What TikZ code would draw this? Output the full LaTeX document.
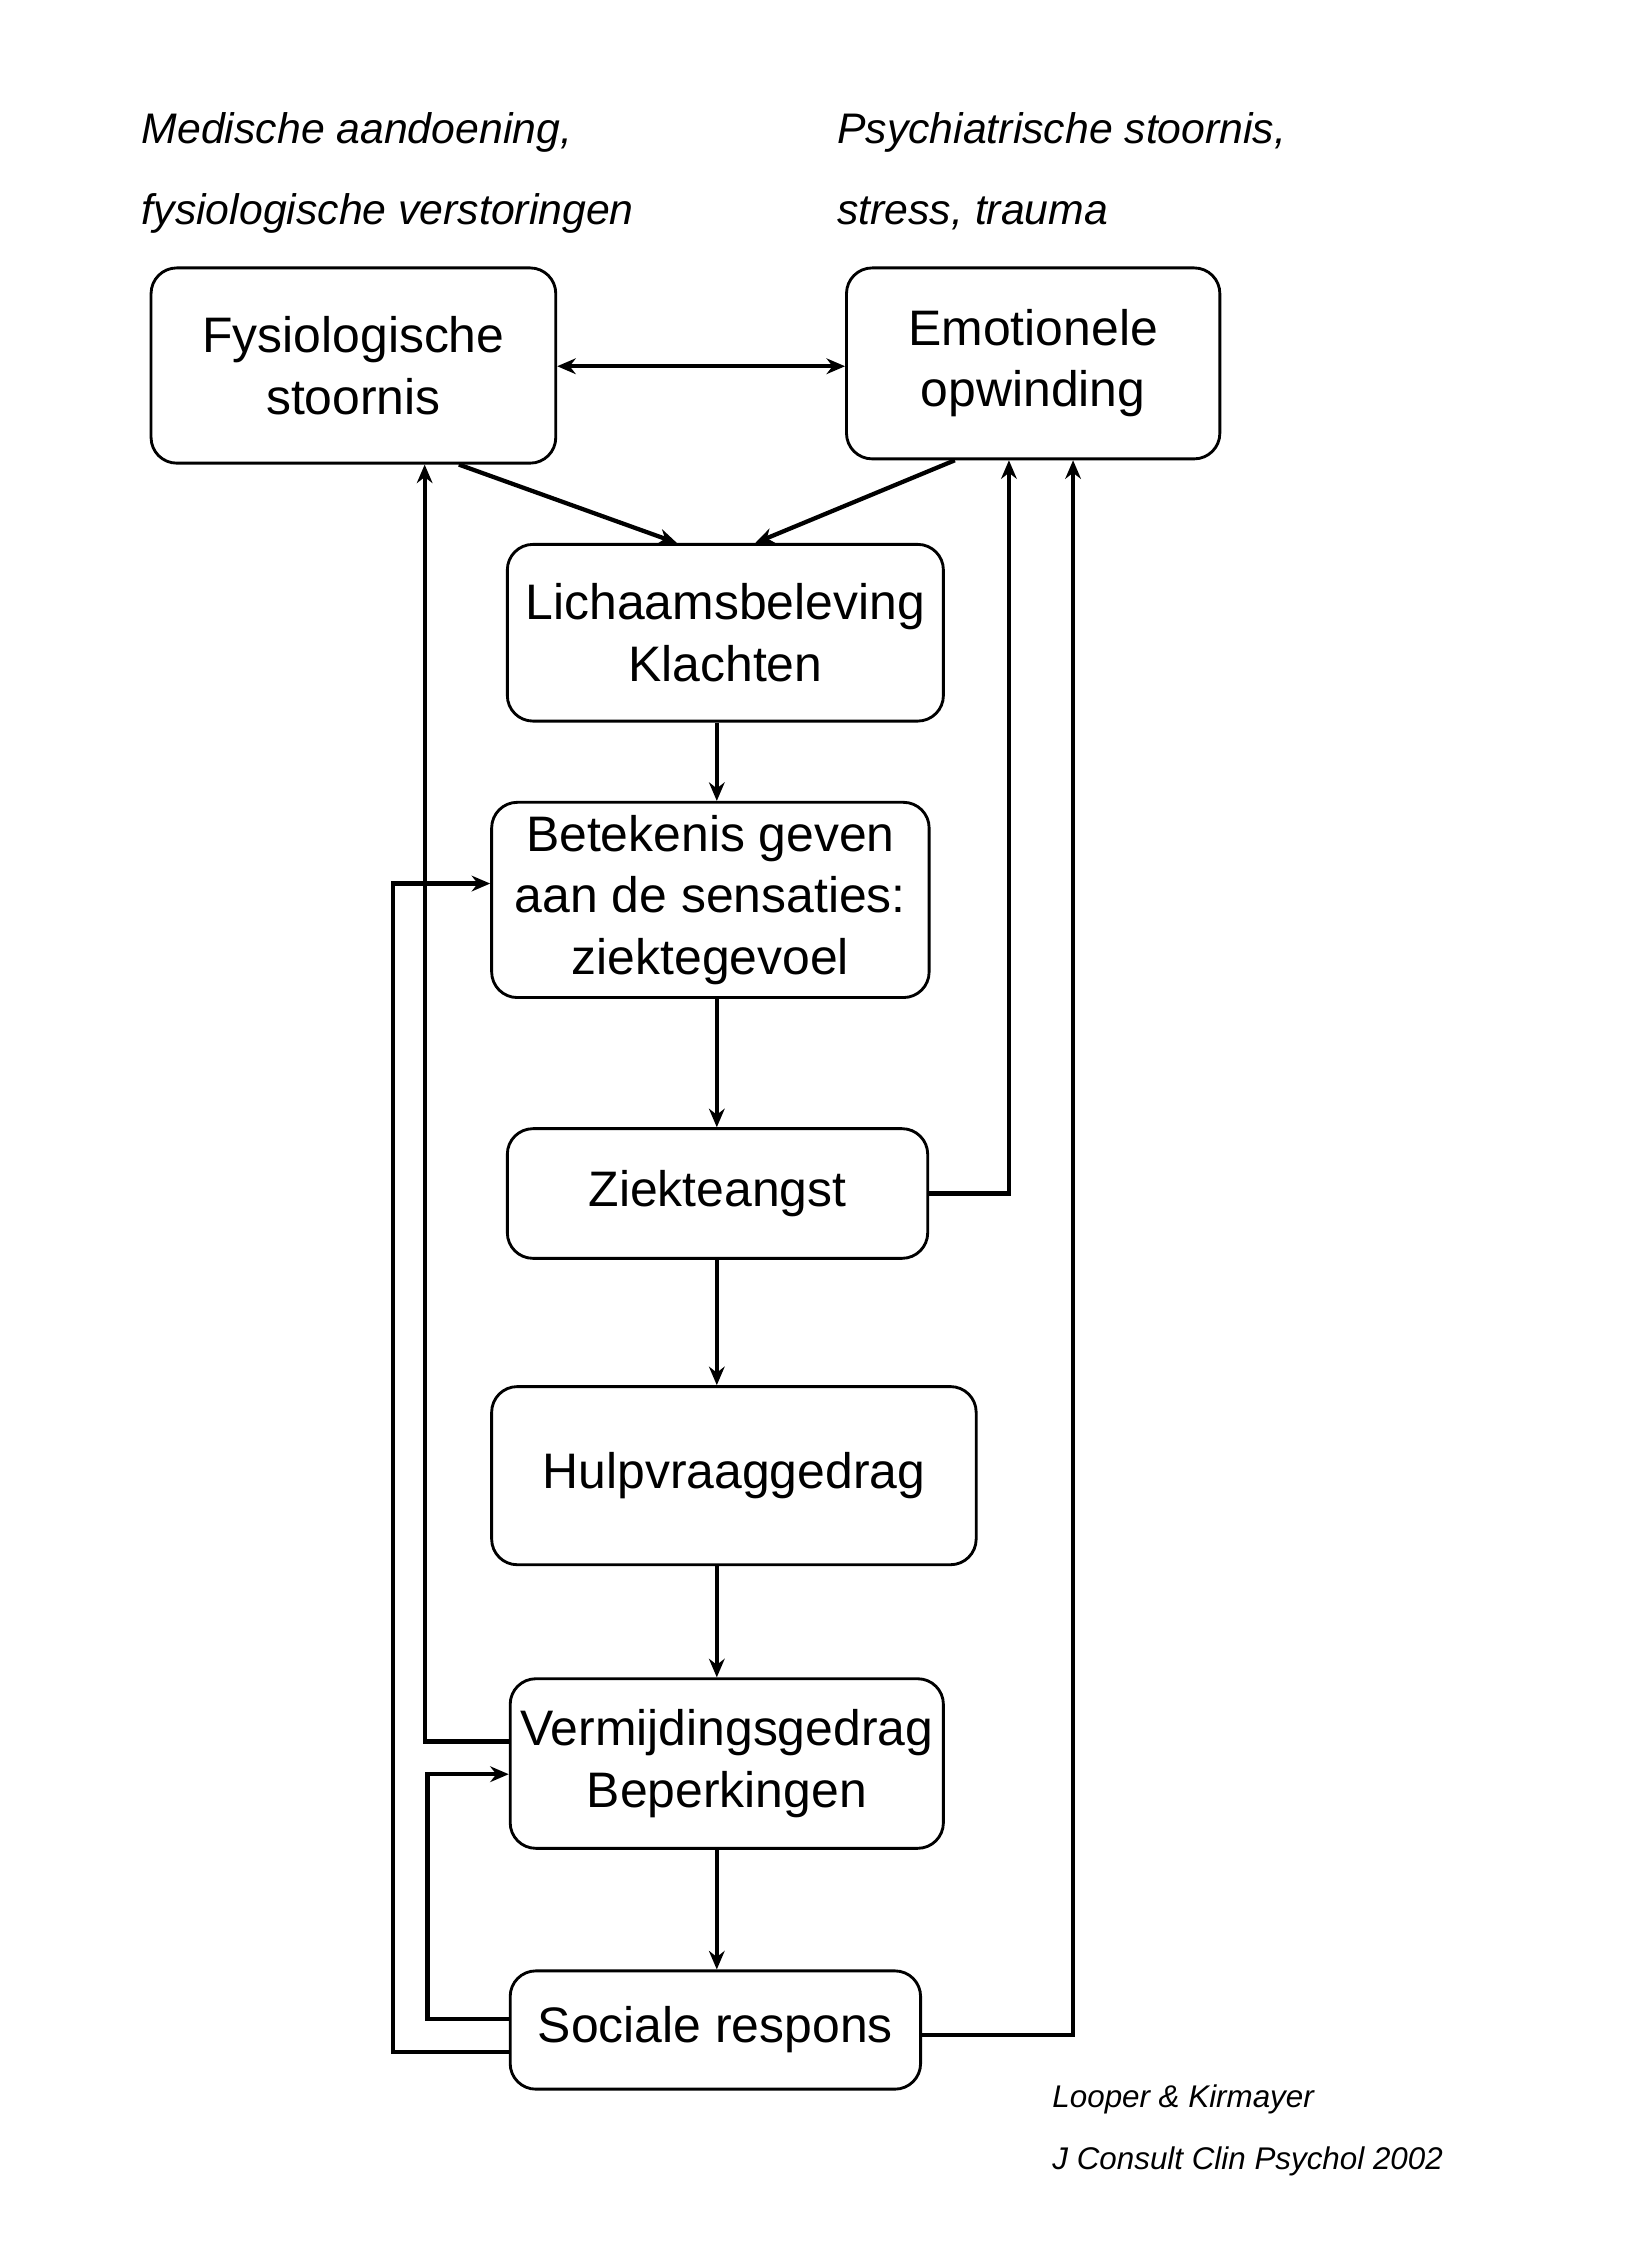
\documentclass[tikz,border=0pt]{standalone}
\usepackage{fontspec}
\setmainfont{Liberation Sans}
\usetikzlibrary{arrows.meta}
\begin{document}
\begin{tikzpicture}[x=1pt,y=-1pt,
  box/.style={draw,line width=2pt,rounded corners=18pt,inner sep=0pt,align=center,font=\fontsize{35}{43}\selectfont},
  arr/.style={line width=3pt,-{Stealth[length=13pt,width=11pt]}},
  lab/.style={anchor=west,font=\fontsize{30}{34}\itshape},
  cit/.style={anchor=west,font=\fontsize{22}{26}\itshape}]
\useasboundingbox (0,0) rectangle (1140,1588);
\node[box,minimum width=284pt,minimum height=137pt] (fys) at (248,256.5) {Fysiologische\\stoornis};
\node[box,minimum width=262pt,minimum height=134pt] (emo) at (725,255) {Emotionele\\opwinding};
\node[box,minimum width=306pt,minimum height=124pt] (lich) at (509,444) {Lichaamsbeleving\\Klachten};
\node[box,minimum width=307pt,minimum height=137pt] (bet) at (498.5,631.5) {Betekenis geven\\aan de sensaties:\\ziektegevoel};
\node[box,minimum width=295pt,minimum height=91pt] (zie) at (503.5,837.5) {Ziekteangst};
\node[box,minimum width=340pt,minimum height=125pt] (hulp) at (515,1035.5) {Hulpvraaggedrag};
\node[box,minimum width=304pt,minimum height=119pt] (verm) at (510,1237.5) {Vermijdingsgedrag\\Beperkingen};
\node[box,minimum width=288pt,minimum height=83pt] (soc) at (502,1424.5) {Sociale respons};
\node[lab] (l1) at (96,93) {Medische aandoening,};
\node[lab] (l2) at (96,150) {fysiologische verstoringen};
\node[lab] (l3) at (584,93) {Psychiatrische stoornis,};
\node[lab] (l4) at (584,150) {stress, trauma};
\node[cit] (c1) at (735,1473) {Looper \& Kirmayer};
\node[cit] (c2) at (735,1517) {J Consult Clin Psychol 2002};
\draw[line width=3pt,{Stealth[length=13pt,width=11pt]}-{Stealth[length=13pt,width=11pt]}] (fys.east |- 0,257) -- (emo.west |- 0,257);
\draw[arr] (fys.south -| 322,0) -- (lich.north -| 475,0);
\draw[arr] (emo.south -| 670,0) -- (lich.north -| 530,0);
\draw[arr] (lich.south -| 503,0) -- (bet.north -| 503,0);
\draw[arr] (bet.south -| 503,0) -- (zie.north -| 503,0);
\draw[arr] (zie.south -| 503,0) -- (hulp.north -| 503,0);
\draw[arr] (hulp.south -| 503,0) -- (verm.north -| 503,0);
\draw[arr] (verm.south -| 503,0) -- (soc.north -| 503,0);
\draw[arr] (zie.east) -- (708,837.5) -- (emo.south -| 708,0);
\draw[arr] (soc.east |- 0,1428) -- (753,1428) -- (emo.south -| 753,0);
\draw[arr] (verm.west |- 0,1222) -- (298,1222) -- (fys.south -| 298,0);
\draw[arr] (soc.west |- 0,1417) -- (300,1417) -- (300,1245) -- (verm.west |- 0,1245);
\draw[arr] (soc.west |- 0,1440) -- (276,1440) -- (276,620) -- (bet.west |- 0,620);
\end{tikzpicture}
\end{document}
